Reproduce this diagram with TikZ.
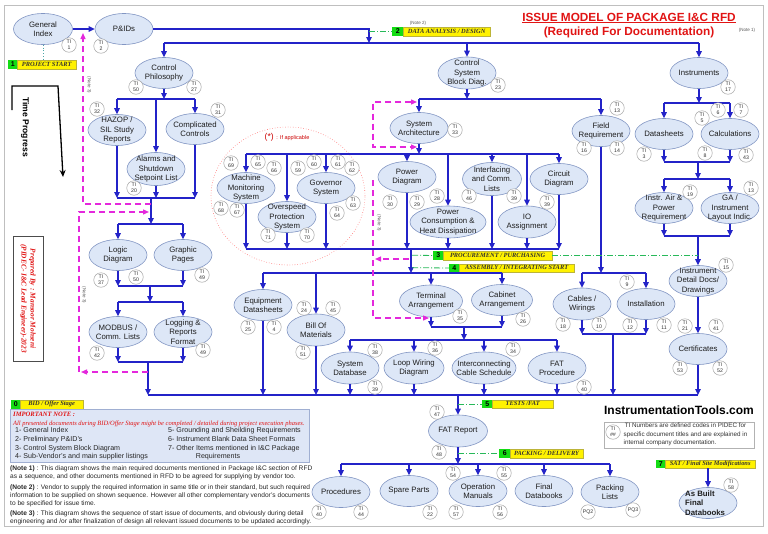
\documentclass[tikz,border=0pt]{standalone}
\usepackage{fontspec}
\setmainfont{Liberation Sans}
\newfontfamily\tserif{Liberation Serif}
\usetikzlibrary{shapes.geometric,arrows.meta}
\definecolor{lb}{RGB}{35,35,200}
\definecolor{ellf}{RGB}{221,231,247}
\definecolor{ellb}{RGB}{130,150,195}
\definecolor{txt}{RGB}{30,30,30}
\definecolor{pinkc}{RGB}{228,40,220}
\definecolor{tgreen}{RGB}{20,220,20}
\definecolor{ddgreen}{RGB}{40,185,90}
\definecolor{titred}{RGB}{225,20,20}
\definecolor{notef}{RGB}{222,230,246}
\definecolor{notebd}{RGB}{160,175,210}
\newcommand\fsz[2]{\fontsize{#1}{#2}\selectfont}
\newcounter{tic}
\newcommand\TI[2]{\stepcounter{tic}\node[ti] (ti\arabic{tic}) at (#1) {TI\\#2};}
\newcommand\PQ[2]{\stepcounter{tic}\node[ti] (ti\arabic{tic}) at (#1) {#2};}
\newcommand\docn[4][]{\node[doc,#1,label={[lbl]center:#4}] (#2) at (#3) {};}
\newcommand\stag[7]{%
 \node[gtag,minimum width={#3-#2},anchor=north west] (#1n) at (#2,#5) {#6};
 \node[ytag,minimum width={#4-#3},anchor=north west] (#1) at (#3,#5) {#7};}
\begin{document}
\begin{tikzpicture}[x=1pt,y=-1pt,
 doc/.style={ellipse, draw=ellb, fill=ellf, line width=0.6, minimum width=58, minimum height=31, inner sep=0},
 lbl/.style={align=center, font=\fsz{7.8}{9.3}, text=txt, inner sep=0},
 ti/.style={circle, draw=gray!70, fill=white, line width=0.5, minimum size=14.5, inner sep=0, align=center, font=\fsz{5.2}{5.6}, text=black!80},
 ln/.style={draw=lb, line width=1.1},
 arr/.style={ln, -{Triangle[width=5.5pt,length=6pt]}},
 pk/.style={draw=pinkc, line width=1.3, dash pattern=on 6pt off 4pt},
 pkarr/.style={pk, -{Triangle[width=5pt,length=6pt]}},
 gdd/.style={draw=ddgreen, line width=0.8, dash pattern=on 6pt off 2pt on 1pt off 2pt},
 gtag/.style={fill=tgreen, minimum height=8.5, inner sep=0, font=\bfseries\fsz{7}{7}},
 ytag/.style={fill=yellow, draw=yellow!70!black, line width=0.3, minimum height=8.5, inner sep=0, text=black!85!yellow!60!black, font=\tserif\bfseries\itshape\fsz{6.4}{6.4}},
 ntxt/.style={font=\fsz{6.6}{7}, inner sep=0, anchor=base west, text=black!85},
 itm/.style={font=\fsz{7.1}{7.5}, inner sep=0, anchor=base west, text=black!85},
 tiny/.style={font=\fsz{4.5}{5}, text=black!65, inner sep=0}]
\useasboundingbox (0,0) rectangle (768,533);
\fill[white] (0,0) rectangle (768,533);
\draw[black!25,line width=0.6] (4,5) rectangle (763,526);
\draw[dotted, draw=red!55, line width=0.6] (288,196) ellipse [x radius=77pt, y radius=69pt];

% ---- documents
\docn[minimum width=59]{gi}{43,29}{General\\Index}
\docn{pid}{124,29}{P\&IDs}
\docn{cp}{164,73}{Control\\Philosophy}
\docn{hz}{117,130}{HAZOP /\\SIL Study\\Reports}
\docn{cc}{195,129}{Complicated\\Controls}
\docn[minimum height=33]{al}{156,169}{Alarms and\\Shutdown\\Setpoint List}
\docn{ld}{118,255}{Logic\\Diagram}
\docn{gp}{183,255}{Graphic\\Pages}
\docn{mb}{118,332}{MODBUS /\\Comm. Lists}
\docn{lg}{183,332}{Logging \&\\Reports\\Format}
\docn[minimum height=32]{csb}{467,73}{Control\\System\\Block Diag.}
\docn{sa}{419,128}{System\\Architecture}
\docn{fr}{601,131}{Field\\Requirement}
\docn{ins}{699,73}{Instruments}
\docn{ds}{664,134}{Datasheets}
\docn{calc}{730,134}{Calculations}
\docn{ia}{664,208}{Instr. Air \&\\Power\\Requirement}
\docn{ga}{730,208}{GA /\\Instrument\\Layout Indic.}
\docn{idd}{698,281}{Instrument\\Detail Docs/\\Drawings}
\docn{cert}{698,349}{Certificates}
\docn{mm}{246,188}{Machine\\Monitoring\\System}
\docn{gs}{326,188}{Governor\\System}
\docn{op}{287,217}{Overspeed\\Protection\\System}
\docn{pd}{407,177}{Power\\Diagram}
\docn[minimum width=59,minimum height=33]{ifc}{492,179}{Interfacing\\and Comm.\\Lists}
\docn{cd}{559,179}{Circuit\\Diagram}
\docn[minimum width=76,minimum height=32]{pc}{448,222}{Power\\Consumption \&\\Heat Dissipation}
\docn[minimum height=32]{io}{527,222}{IO\\Assignment}
\docn{eq}{263,305}{Equipment\\Datasheets}
\docn[minimum height=32]{bom}{316,330}{Bill Of\\Materials}
\docn[minimum width=63,minimum height=32]{ta}{431,301}{Terminal\\Arrangement}
\docn[minimum width=61]{ca}{502,300}{Cabinet\\Arrangement}
\docn[minimum height=32]{cw}{582,304}{Cables /\\Wirings}
\docn{inst}{646,304}{Installation}
\docn[minimum height=32]{sdb}{350,368}{System\\Database}
\docn[minimum width=60,minimum height=32]{lw}{414,368}{Loop Wiring\\Diagram}
\docn[minimum width=64,minimum height=32]{ic}{484,368}{Interconnecting\\Cable Schedule}
\docn[minimum height=32]{fp}{557,368}{FAT\\Procedure}
\docn[minimum width=59,minimum height=32]{fat}{458,431}{FAT Report}
\docn{proc}{341,492}{Procedures}
\docn{sp}{409,491}{Spare Parts}
\docn{om}{478,491}{Operation\\Manuals}
\docn{fdb}{544,491}{Final\\Databooks}
\docn{pl}{610,492}{Packing\\Lists}
\node[doc] (ab) at (708,503) {};
\node[anchor=west,align=left,font=\bfseries\fsz{7.8}{9.3},text=txt,inner sep=0] (abt) at (685,503) {As Built\\Final\\Databooks};

% ---- stage tags
\stag{t1}{8}{17}{76}{60}{1}{PROJECT START}
\stag{t2}{392}{403}{490}{27}{2}{DATA ANALYSIS / DESIGN}
\stag{t3}{433}{443}{552}{251}{3}{PROCUREMENT / PURCHASING}
\stag{t4}{449}{459}{574}{263.5}{4}{ASSEMBLY / INTEGRATING START}
\stag{t5}{482}{492}{553}{399.5}{5}{TESTS /FAT}
\stag{t6}{499}{510}{583}{449}{6}{PACKING / DELIVERY}
\stag{t7}{656}{665}{755}{459.5}{7}{SAT / Final Site Modifications}
\stag{t0}{11}{20}{83}{400}{0}{BID / Offer Stage}

% ---- bus levels
\coordinate (bA) at (0,43);  \coordinate (bB) at (0,99);  \coordinate (bC) at (0,198);
\coordinate (bD) at (0,224); \coordinate (bE) at (0,286); \coordinate (bF) at (0,302);
\coordinate (bG) at (0,362); \coordinate (bZ) at (0,395); \coordinate (bH) at (0,99);
\coordinate (bI) at (0,154); \coordinate (bJ) at (0,249); \coordinate (bK) at (0,273);
\coordinate (bL) at (0,327); \coordinate (bM) at (0,340); \coordinate (bN) at (0,103);
\coordinate (bO) at (0,162); \coordinate (bP) at (0,179); \coordinate (bQ) at (0,236);
\coordinate (bR) at (0,273); \coordinate (bS) at (0,334); \coordinate (bT) at (0,464);
\coordinate (jA) at (369,29); \coordinate (jC) at (151,198); \coordinate (jE) at (150,286);
\coordinate (jG) at (148,362); \coordinate (jJ) at (411,249); \coordinate (jL) at (464,327);
\coordinate (jO) at (698,162); \coordinate (jS) at (613,334);

% ---- connectors
\draw[arr] (gi.east) -- (pid.west);
\draw[arr] (pid.east) -- (jA) -- (jA |- bA);
\draw[ln] (cp.north |- bA) -- (ins.north |- bA);
\foreach \n in {cp,csb,ins} \draw[arr] (\n.north |- bA) -- (\n.north);
% left column
\draw[arr] (cp.south) -- (cp.south |- bB);
\draw[ln] (hz.north |- bB) -- (cc.north |- bB);
\foreach \n in {hz,al,cc} \draw[arr] (\n.north |- bB) -- (\n.north);
\foreach \n in {hz,al,cc} \draw[arr] (\n.south) -- (\n.south |- bC);
\draw[ln] (hz.south |- bC) -- (cc.south |- bC);
\draw[arr] (jC) -- (jC |- bD);
\draw[ln] (ld.north |- bD) -- (gp.north |- bD);
\foreach \n in {ld,gp} \draw[arr] (\n.north |- bD) -- (\n.north);
\foreach \n in {ld,gp} \draw[arr] (\n.south) -- (\n.south |- bE);
\draw[ln] (ld.south |- bE) -- (gp.south |- bE);
\draw[arr] (jE) -- (jE |- bF);
\draw[ln] (mb.north |- bF) -- (lg.north |- bF);
\foreach \n in {mb,lg} \draw[arr] (\n.north |- bF) -- (\n.north);
\foreach \n in {mb,lg} \draw[arr] (\n.south) -- (\n.south |- bG);
\draw[ln] (mb.south |- bG) -- (lg.south |- bG);
\draw[arr] (jG) -- (jG |- bZ);
% main collection bus
\draw[ln] (jG |- bZ) -- (cert.south |- bZ);
\foreach \n in {eq,bom,sdb,lw,ic,fp,cert} \draw[arr] (\n.south) -- (\n.south |- bZ);
\draw[arr] (fat.north |- bZ) -- (fat.north);
% middle
\draw[arr] (csb.south) -- (csb.south |- bH);
\draw[ln] (sa.north |- bH) -- (fr.north |- bH);
\foreach \n in {sa,fr} \draw[arr] (\n.north |- bH) -- (\n.north);
\draw[arr] (sa.south) -- (sa.south |- bI);
\draw[ln] (mm.north |- bI) -- (cd.north |- bI);
\foreach \n in {mm,op,gs,pd,pc,ifc,io,cd} \draw[arr] (\n.north |- bI) -- (\n.north);
\foreach \n in {mm,op,gs,pd,pc,ifc,io,cd} \draw[arr] (\n.south) -- (\n.south |- bJ);
\draw[ln] (mm.south |- bJ) -- (cd.south |- bJ);
\draw[arr] (jJ) -- (jJ |- bK);
\draw[ln] (eq.north |- bK) -- (ca.north |- bK);
\foreach \n in {eq,bom,ta,ca} \draw[arr] (\n.north |- bK) -- (\n.north);
\foreach \n in {ta,ca} \draw[arr] (\n.south) -- (\n.south |- bL);
\draw[ln] (ta.south |- bL) -- (ca.south |- bL);
\draw[arr] (jL) -- (jL |- bM);
\draw[ln] (sdb.north |- bM) -- (fp.north |- bM);
\foreach \n in {sdb,lw,ic,fp} \draw[arr] (\n.north |- bM) -- (\n.north);
% right
\draw[arr] (ins.south) -- (ins.south |- bN);
\draw[ln] (ds.north |- bN) -- (calc.north |- bN);
\foreach \n in {ds,calc} \draw[arr] (\n.north |- bN) -- (\n.north);
\foreach \n in {ds,calc} \draw[arr] (\n.south) -- (\n.south |- bO);
\draw[ln] (ds.south |- bO) -- (calc.south |- bO);
\draw[arr] (jO) -- (jO |- bP);
\draw[ln] (ia.north |- bP) -- (ga.north |- bP);
\foreach \n in {ia,ga} \draw[arr] (\n.north |- bP) -- (\n.north);
\foreach \n in {ia,ga} \draw[arr] (\n.south) -- (\n.south |- bQ);
\draw[ln] (ia.south |- bQ) -- (ga.south |- bQ);
\draw[arr] (idd.north |- bQ) -- (idd.north);
\draw[arr] (idd.south) -- (cert.north);
\draw[arr] (fr.south) -- (fr.south |- bR);
\draw[ln] (cw.north |- bR) -- (inst.north |- bR);
\foreach \n in {cw,inst} \draw[arr] (\n.north |- bR) -- (\n.north);
\foreach \n in {cw,inst} \draw[arr] (\n.south) -- (\n.south |- bS);
\draw[ln] (cw.south |- bS) -- (inst.south |- bS);
\draw[arr] (jS) -- (jS |- bZ);
% bottom
\draw[arr] (fat.south) -- (fat.south |- bT);
\draw[ln] (proc.north |- bT) -- (pl.north |- bT);
\foreach \n in {proc,sp,om,fdb,pl} \draw[arr] (\n.north |- bT) -- (\n.north);
\draw[arr] (t7.south -| ab.north) -- (ab.north);

% ---- stage guide lines
\draw[dotted, draw=teal!70, line width=0.8] (gi.south) -- (gi.south |- t1.north);
\draw[gdd] (jA |- t2n.west) -- (t2n.west);
\coordinate (g3) at (412,255.25);
\draw[gdd] (g3) -- (t3n.west);
\draw[gdd] (t3.east) -- (t3.east -| idd.north);
\coordinate (g4) at (412,267.75);
\draw[gdd] (g4) -- (t4n.west);
\draw[gdd] (fat.north |- t5n.west) -- (t5n.west);
\draw[gdd] (fat.south |- t6n.west) -- (t6n.west);

% ---- note 3 dashed paths
\draw[pkarr] (151,204) -- (83,204) -- (83,33);
\draw[pkarr] (148,372) -- (81,372);
\draw[pkarr] (79,372) -- (79,212) -- (149,212);
\draw[pk, {Triangle[width=5pt,length=6pt]}-{Triangle[width=5pt,length=6pt]}] (417,102) -- (373,102) -- (373,147) -- (417,147);
\draw[pkarr] (373,180) -- (373,318) -- (429,318);
\draw[pkarr] (409,259) -- (375,259);
\node[tiny,rotate=-90] (n3a) at (89,85) {(Note 3)};
\node[tiny,rotate=-90] (n3b) at (84,295) {(Note 3)};
\node[tiny,rotate=-90] (n3c) at (379,223) {(Note 3)};
\node[tiny] (n1) at (747,30) {(Note 1)};
\node[tiny] (n2) at (418,23) {(Note 2)};

% ---- TI markers
\TI{69,45}{1}
\TI{101,46}{2}
\TI{136,87}{50} \TI{194,87}{27}
\TI{97,109}{32}
\TI{218,110}{31}
\TI{134,188}{20}
\TI{101,280}{37} \TI{136,277}{50}
\TI{202,275}{49}
\TI{97,353}{42}
\TI{203,350}{49}
\TI{498,85}{23}
\TI{455,130}{33}
\TI{617,108}{13} \TI{584,148}{16} \TI{617,148}{14}
\TI{728,87}{17}
\TI{644,154}{3}
\TI{702,118}{5} \TI{718,110}{6} \TI{741,110}{7} \TI{705,153}{8} \TI{746,155}{43}
\TI{690,192}{19}
\TI{751,188}{13}
\TI{726,265}{15}
\TI{685,326}{21} \TI{716,326}{41} \TI{680,368}{53} \TI{720,368}{52}
\TI{231,163}{69} \TI{258,162}{65} \TI{274,168}{66} \TI{221,208}{68} \TI{237,210}{67}
\TI{298,168}{59} \TI{314,162}{60} \TI{338,162}{61} \TI{352,168}{62} \TI{337,213}{64} \TI{353,203}{63}
\TI{268,235}{71} \TI{307,235}{70}
\TI{390,202}{30} \TI{417,202}{29}
\TI{437,196}{28} \TI{469,196}{46} \TI{514,196}{39}
\TI{547,202}{39}
\TI{248,327}{25} \TI{274,327}{4}
\TI{304,308}{24} \TI{333,308}{45} \TI{303,352}{51}
\TI{460,316}{35}
\TI{523,319}{26}
\TI{563,324}{18} \TI{599,324}{10}
\TI{627,282}{9} \TI{630,325}{12} \TI{664,325}{11}
\TI{375,350}{38} \TI{375,387}{39}
\TI{435,348}{36}
\TI{513,349}{34}
\TI{584,387}{40}
\TI{437,412}{47} \TI{439,452}{48}
\TI{319,512}{40} \TI{361,512}{44}
\TI{430,512}{22}
\TI{453,473}{54} \TI{504,473}{55} \TI{456,512}{57} \TI{500,512}{56}
\PQ{588,512}{PQ2} \PQ{633,510}{PQ3}
\TI{731,485}{58}

% ---- titles and texts
\node[font=\bfseries\fsz{11.8}{13}, text=titred, inner sep=0] (title1) at (629,18) {\underline{ISSUE MODEL OF PACKAGE I\&C RFD}};
\node[font=\bfseries\fsz{11.8}{13}, text=titred, inner sep=0] (title2) at (629,32) {(Required For Documentation)};
\node[text=red!80!black, inner sep=0] (ifapp) at (287,137) {{\fsz{8.5}{9}(*)} {\fsz{5.5}{6}: If applicable}};
\node[font=\bfseries\fsz{12}{13}, inner sep=0] (itc) at (679,410) {InstrumentationTools.com};
\node[draw=gray!60, line width=0.5, minimum width=150, minimum height=26, anchor=north west, inner sep=0] (tibox) at (604,422) {};
\node[ti] (tihash) at (613,432) {TI\\\textit{\#\#}};
\node[anchor=north west, align=left, font=\fsz{6.3}{8.3}, text=black!80, inner sep=0] (tinote) at (623.5,423) {\,TI Numbers are defined codes in PIDEC for\\specific document titles and are explained in\\internal company documentation.};

% time progress
\draw[black, line width=1.3, -{Stealth[length=7pt,width=6pt]}] (12,110) -- (12,86) -- (58,86) -- (63,177);
\node[rotate=-90, font=\bfseries\fsz{8.6}{9}, inner sep=0] (tp) at (25,127) {Time Progress};

% prepared by
\node[draw=black!70, line width=0.7, minimum width=30, minimum height=125, inner sep=0] (prepbox) at (28,298.5) {};
\node[rotate=-90, align=center, font=\tserif\bfseries\itshape\fsz{7.3}{9}, text=titred, inner sep=0] (prep) at (prepbox) {Prepared By : Mansoor Mohseni\\(PIDEC- I\&C Lead Engineer)-2023};

% note box
\node[draw=notebd, fill=notef, line width=0.5, minimum width=299, minimum height=53, anchor=north west, inner sep=0] (nbox) at (10,408.5) {};
\node[font=\tserif\bfseries\itshape\fsz{6.6}{7}, text=titred, anchor=base west, inner sep=0] (imp) at (13,416.5) {IMPORTANT NOTE :};
\node[font=\tserif\itshape\fsz{6.5}{7}, text=titred, anchor=base west, inner sep=0] (impt) at (13,425) {All presented documents during BID/Offer Stage might be completed / detailed during project execution phases.};
\node[itm] (i1) at (15,432.5) {1- General Index};
\node[itm] (i2) at (15,441.3) {2- Preliminary P\&ID's};
\node[itm] (i3) at (15,450) {3- Control System Block Diagram};
\node[itm] (i4) at (15,458.7) {4- Sub-Vendor's and main supplier listings};
\node[itm] (i5) at (168,432.5) {5- Grounding and Sheilding Requirements};
\node[itm] (i6) at (168,441.3) {6- Instrument Blank Data Sheet Formats};
\node[itm] (i7) at (168,450) {7- Other Items mentioned in I\&C Package};
\node[itm, anchor=base] (i8) at (218,458.7) {Requirements};
\node[ntxt] (nt1) at (10,470) {\textbf{(Note 1)} : This diagram shows the main required documents mentioned in Package I\&C section of RFD};
\node[ntxt] (nt2) at (10,478) {as a sequence, and other documents mentioned in RFD to be agreed for supplying by vendor too.};
\node[ntxt] (nt3) at (10,489) {\textbf{(Note 2)} : Vendor to supply the required information in same title or in their standard, but such required};
\node[ntxt] (nt4) at (10,497) {information to be supplied on shown sequence. However all other complementary vendor's documents};
\node[ntxt] (nt5) at (10,505) {to be specified for issue time.};
\node[ntxt] (nt6) at (10,515.5) {\textbf{(Note 3)} : This diagram shows the sequence of start issue of documents, and obviously during detail};
\node[ntxt] (nt7) at (10,523.5) {engineering and /or after finalization of design all relevant issued documents to be updated accordingly.};
\end{tikzpicture}
\end{document}
